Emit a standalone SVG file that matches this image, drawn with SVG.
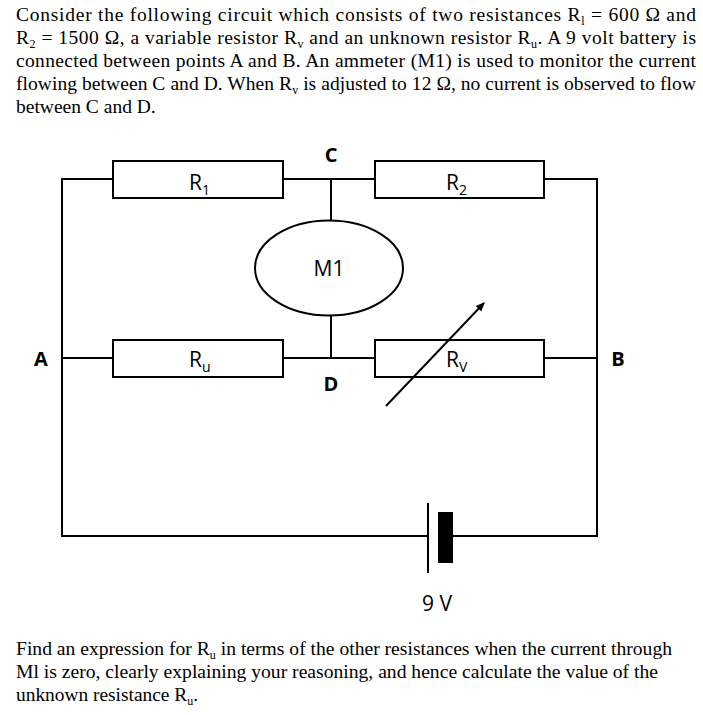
<svg xmlns="http://www.w3.org/2000/svg" width="703" height="715" viewBox="0 0 703 715">
<style>
.t{font-family:"Liberation Serif",serif;font-size:19.5px;fill:#000}
.s{font-family:"Open Sans","Liberation Sans",sans-serif;font-size:21px;fill:#000}
.b{font-family:"Open Sans","Liberation Sans",sans-serif;font-size:20px;font-weight:bold;fill:#000}
.w{stroke:#000;stroke-width:2;fill:none}
.r{stroke:#000;stroke-width:2;fill:#fff}
</style>
<defs><marker id="ah" markerWidth="10" markerHeight="10" refX="8" refY="5" orient="auto" markerUnits="userSpaceOnUse"><path d="M0,1 L9,5 L0,9 z" fill="#000"/></marker></defs>
<rect width="703" height="715" fill="#fff"/>
<text class="t" x="16" y="21" textLength="680" lengthAdjust="spacing">Consider the following circuit which consists of two resistances R<tspan font-size="12" dy="4">l</tspan><tspan dy="-4"> = 600 Ω and</tspan></text>
<text class="t" x="16" y="44" textLength="680" lengthAdjust="spacing">R<tspan font-size="12" dy="4">2</tspan><tspan dy="-4"> = 1500 Ω, a variable resistor R</tspan><tspan font-size="12" dy="4">v</tspan><tspan dy="-4"> and an unknown resistor R</tspan><tspan font-size="12" dy="4">u</tspan><tspan dy="-4">. A 9 volt battery is</tspan></text>
<text class="t" x="16" y="67" textLength="680" lengthAdjust="spacing">connected between points A and B. An ammeter (M1) is used to monitor the current</text>
<text class="t" x="16" y="90" textLength="680" lengthAdjust="spacing">flowing between C and D. When R<tspan font-size="12" dy="4">v</tspan><tspan dy="-4"> is adjusted to 12 Ω, no current is observed to flow</tspan></text>
<text class="t" x="16" y="113">between C and D.</text>
<g id="connectors">
<path class="w" d="M113,179 H62 V536 H427 M453,536 H597 V179 H544 M283,179 H375 M331,179 V221 M331,316 V358 M62,358 H113 M283,358 H375 M544,358 H597"/>
<line class="w" x1="386" y1="406" x2="484" y2="303" marker-end="url(#ah)"/>
</g>
<g id="R1"><rect class="r" x="113" y="161" width="170" height="37"/><text class="s" x="189" y="190">R<tspan font-size="14" dy="5">1</tspan></text></g>
<g id="R2"><rect class="r" x="375" y="161" width="169" height="37"/><text class="s" x="446" y="190">R<tspan font-size="14" dy="5">2</tspan></text></g>
<g id="Ru"><rect class="r" x="113" y="340" width="170" height="37"/><text class="s" x="189" y="367">R<tspan font-size="14" dy="5">u</tspan></text></g>
<g id="Rv"><rect class="r" x="375" y="340" width="169" height="37" fill-opacity="0"/><text class="s" x="446" y="367">R<tspan font-size="14" dy="5">V</tspan></text></g>
<g id="M1"><ellipse class="r" cx="329" cy="268" rx="74" ry="47.5"/><text class="s" x="329" y="276" text-anchor="middle">M1</text></g>
<g id="battery"><line class="w" x1="428" y1="503" x2="428" y2="573"/><rect x="438" y="512" width="15" height="51" fill="#000"/><text class="s" x="437" y="611" text-anchor="middle">9 V</text></g>
<text class="b" x="331" y="162" text-anchor="middle">C</text>
<text class="b" x="331" y="391" text-anchor="middle">D</text>
<text class="b" x="41" y="366" text-anchor="middle">A</text>
<text class="b" x="618" y="366" text-anchor="middle">B</text>
<text class="t" x="16" y="655" textLength="656" lengthAdjust="spacingAndGlyphs">Find an expression for R<tspan font-size="12" dy="4">u</tspan><tspan dy="-4"> in terms of the other resistances when the current through</tspan></text>
<text class="t" x="16" y="678" textLength="642" lengthAdjust="spacingAndGlyphs">Ml is zero, clearly explaining your reasoning, and hence calculate the value of the</text>
<text class="t" x="16" y="701" textLength="182" lengthAdjust="spacingAndGlyphs">unknown resistance R<tspan font-size="12" dy="4">u</tspan><tspan dy="-4">.</tspan></text>
</svg>
